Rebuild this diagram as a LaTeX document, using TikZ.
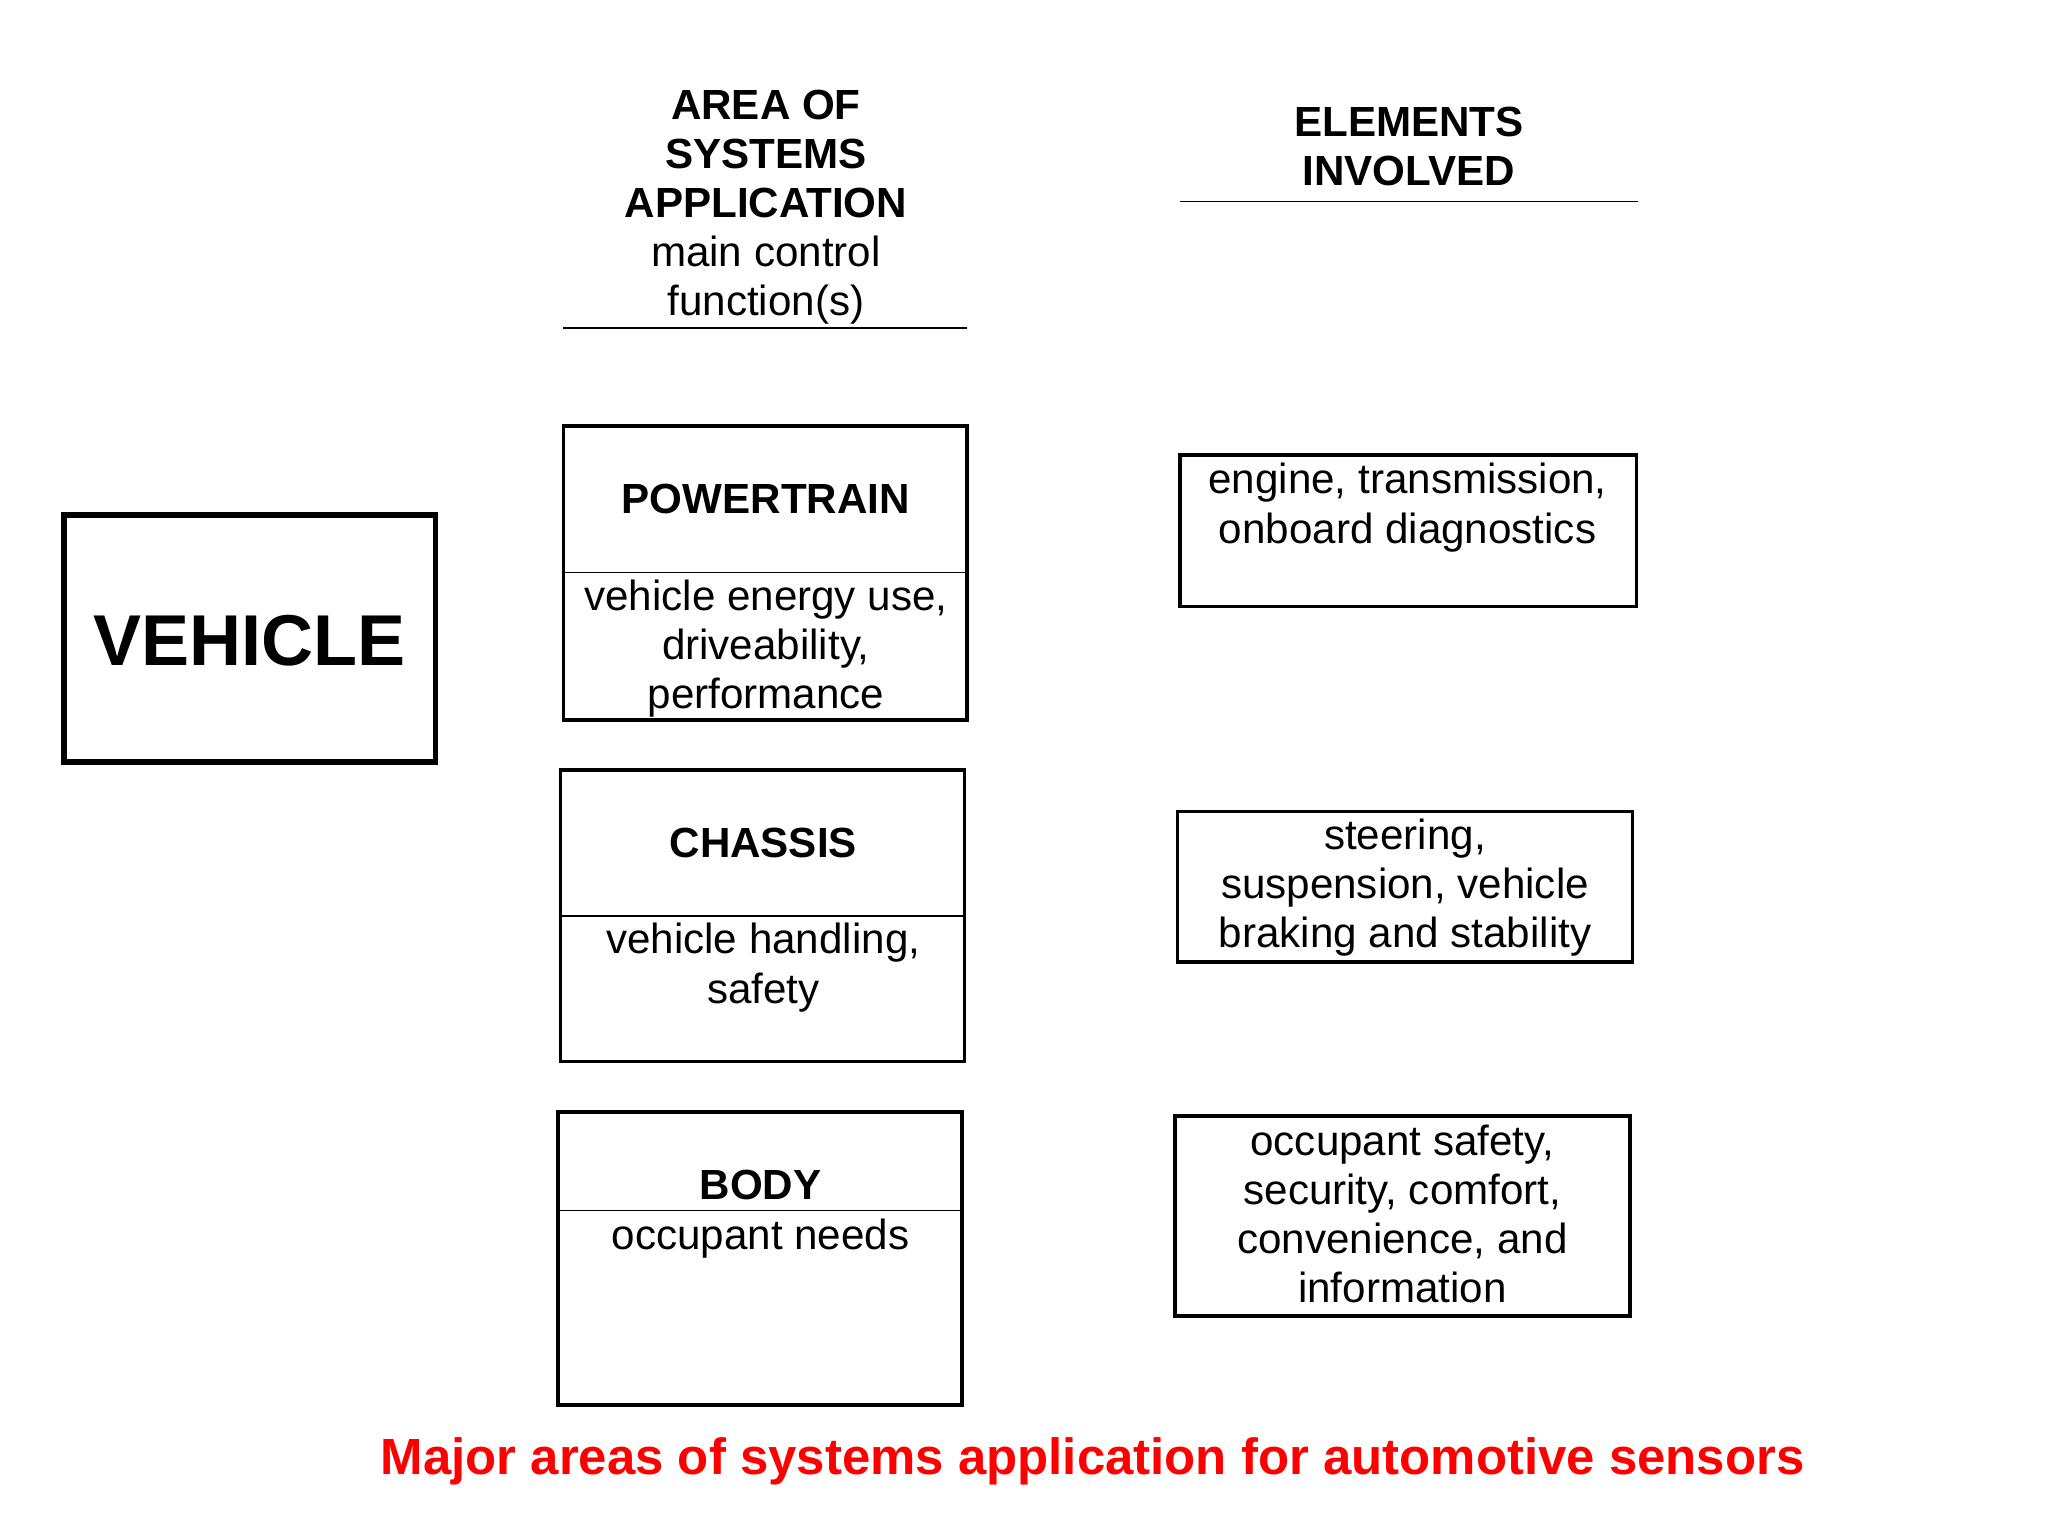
\documentclass[tikz,border=0pt]{standalone}
\usepackage{fontspec}
\setmainfont{Liberation Sans}
\begin{document}
\begin{tikzpicture}[x=0.01307cm,y=-0.01307cm,
 box/.style={draw,line width=1pt},
 txt/.style={align=center,font=\fontsize{12}{14}\selectfont,inner sep=0pt},
 hd/.style={align=center,font=\fontsize{12}{14}\selectfont\bfseries,inner sep=0pt}]
\useasboundingbox (0,0) rectangle (1567,1175);
% headers
\node[txt,anchor=north] (h1) at (586,68) {\textbf{AREA OF}\\\textbf{SYSTEMS}\\\textbf{APPLICATION}\\main control\\function(s)};
\draw (431,251) -- (740,251);
\node[hd,anchor=north] (h2) at (1078,81) {ELEMENTS\\INVOLVED};
\draw (903,154) -- (1253,154);
% vehicle
\draw[box,line width=1.5pt] (49,394) rectangle (333,583);
\node[font=\fontsize{20.5}{24}\selectfont\bfseries] (veh) at (191,490) {VEHICLE};
% powertrain
\draw[box] (431,326) rectangle (740,551); \draw (431,438) -- (740,438);
\node[hd] (pt) at (586,382) {POWERTRAIN};
\node[txt,anchor=north] (ptd) at (586,443) {vehicle energy use,\\driveability,\\performance};
% chassis
\draw[box] (429,589) rectangle (738,812); \draw (429,701) -- (738,701);
\node[hd] (ch) at (584,645) {CHASSIS};
\node[txt,anchor=north] (chd) at (584,706) {vehicle handling,\\safety};
% body
\draw[box] (427,851) rectangle (736,1075); \draw (427,926) -- (736,926);
\node[hd] (bo) at (582,907) {BODY};
\node[txt,anchor=north] (bod) at (582,932) {occupant needs};
% elements
\draw[box] (903,348) rectangle (1252,464);
\node[txt,anchor=north] (e1) at (1077,354) {engine, transmission,\\onboard diagnostics};
\draw[box] (901,621) rectangle (1249,736);
\node[txt,anchor=north] (e2) at (1075,626) {steering,\\suspension, vehicle\\braking and stability};
\draw[box] (899,854) rectangle (1247,1007);
\node[txt,anchor=north] (e3) at (1073,860) {occupant safety,\\security, comfort,\\convenience, and\\information};
% caption
\node[font=\fontsize{14.5}{17}\selectfont\bfseries,text=red] (cap) at (836,1118) {Major areas of systems application for automotive sensors};
\end{tikzpicture}
\end{document}
